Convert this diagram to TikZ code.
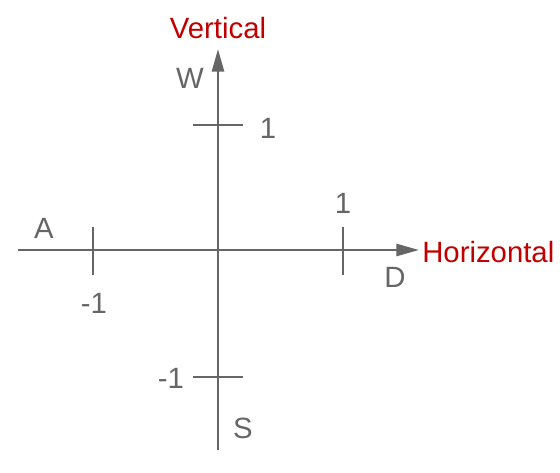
\documentclass[tikz,border=0pt]{standalone}
\usepackage{fontspec}
\setmainfont{Liberation Sans}
\usetikzlibrary{arrows.meta}
\definecolor{axisgray}{HTML}{666666}
\definecolor{axisred}{HTML}{C00000}
\tikzset{
  axis/.style={draw=axisgray, line width=1.9pt, -{Triangle[length=17pt,width=9pt]}},
  tick/.style={draw=axisgray, line width=1.9pt},
  lbl/.style={text=axisgray, inner sep=0pt, font=\fontsize{22}{26}\selectfont},
  axislbl/.style={lbl, text=axisred}
}

\begin{document}
\begin{tikzpicture}[x=0.75pt,y=-0.75pt]
\useasboundingbox (0,0) rectangle (560,473);
% axes
\coordinate (west) at (18,250);
\coordinate (east) at (419,250);
\coordinate (south) at (218,450);
\coordinate (north) at (218,49);
\draw[axis] (west) -- (east);
\draw[axis] (south) -- (north);
% ticks
\foreach \x/\n in {93/xm,343/xp} {
  \coordinate (\n a) at (\x,227);
  \coordinate (\n b) at (\x,275);
  \draw[tick] (\n a) -- (\n b);
}
\foreach \y/\n in {125/yp,377/ym} {
  \coordinate (\n a) at (193,\y);
  \coordinate (\n b) at (243,\y);
  \draw[tick] (\n a) -- (\n b);
}
% labels
\node[axislbl] (vertical) at (218,28) {Vertical};
\node[axislbl, anchor=west] (horizontal) at (422,252) {Horizontal};
\node[lbl] (w) at (190,78) {W};
\node[lbl] (a) at (44,228) {A};
\node[lbl] (d) at (395,277) {D};
\node[lbl] (s) at (243,428) {S};
\node[lbl] (yone) at (268,128) {1};
\node[lbl] (xone) at (343,203) {1};
\node[lbl] (xmone) at (94,303) {-1};
\node[lbl] (ymone) at (171,378) {-1};
\end{tikzpicture}
\end{document}
